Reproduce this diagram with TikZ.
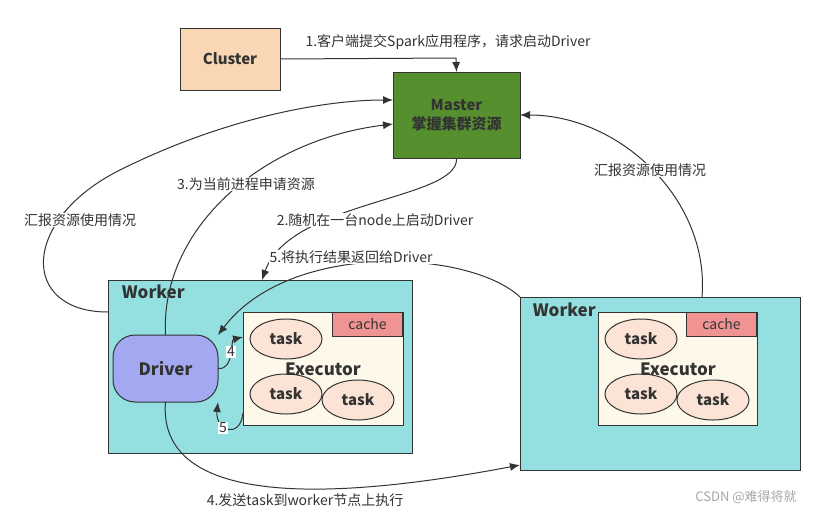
\documentclass[tikz,border=0pt]{standalone}
\usepackage{fontspec}
\setmainfont{Noto Sans CJK SC}
\usetikzlibrary{arrows,arrows.meta,positioning,shapes.geometric}
\definecolor{peach}{HTML}{F9D7B5}
\definecolor{mgreen}{HTML}{568F2E}
\definecolor{wcyan}{HTML}{94DFDF}
\definecolor{dblue}{HTML}{A3A9F0}
\definecolor{exbg}{HTML}{FDF8EA}
\definecolor{cachec}{HTML}{F09393}
\definecolor{taskc}{HTML}{FBE4D5}
\definecolor{txt}{HTML}{333333}
\tikzstyle{box}=[draw=txt, line width=1pt, inner sep=0pt, outer sep=0pt]
\tikzstyle{task}=[draw=txt, line width=1pt, ellipse, fill=taskc, minimum width=72pt, minimum height=40pt, inner sep=0pt, font=\bfseries\fontsize{15}{17}\selectfont, text=txt]
\tikzstyle{lbl}=[fill=white, inner sep=1pt, text=txt, font=\fontsize{14}{16}\selectfont]
\tikzstyle{cache}=[draw=txt, line width=1pt, fill=cachec, minimum width=70pt, minimum height=24pt, anchor=north east, inner sep=0pt, text=txt, font=\fontsize{14}{16}\selectfont]

\begin{document}
\begin{tikzpicture}[x=1pt,y=-1pt,>={Latex[length=10pt,width=8pt]},line width=1pt,color=txt]
\useasboundingbox (0,0) rectangle (830,515);

% boxes
\node [box, fill=peach, minimum width=100pt, minimum height=62pt, font=\bfseries\fontsize{15}{17}\selectfont, text=txt] (cluster) at (230,59) {Cluster};
\node [box, fill=mgreen, minimum width=127pt, minimum height=86pt, font=\bfseries\fontsize{15}{19}\selectfont, text=txt, align=center] (master) at (456.5,115) {Master\\掌握集群资源};

\node [box, fill=wcyan, minimum width=304pt, minimum height=173pt] (w1) at (260,366.5) {};
\node [box, fill=wcyan, minimum width=280pt, minimum height=173pt] (w2) at (660,383.5) {};
\node [font=\bfseries\fontsize{17}{19}\selectfont, text=txt, anchor=west] (w1t) at (118,292) {Worker};
\node [font=\bfseries\fontsize{17}{19}\selectfont, text=txt, anchor=west] (w2t) at (529,310) {Worker};

\node [box, fill=dblue, rounded corners=22pt, minimum width=105pt, minimum height=67pt, font=\bfseries\fontsize{17}{19}\selectfont, text=txt] (driver) at (165.5,368.5) {Driver};

\node [box, fill=exbg, minimum width=160pt, minimum height=113pt] (ex1) at (323,368.5) {};
\node [cache] (c1) at (ex1.north east) {cache};
\node [task] (t11) at (286,339) {task};
\node [task] (t12) at (286,394) {task};
\node [task] (t13) at (358,400) {task};
\node [font=\bfseries\fontsize{17}{19}\selectfont, text=txt] (e1t) at (323,369) {Executor};

\node [box, fill=exbg, minimum width=159pt, minimum height=113pt] (ex2) at (677.5,368.5) {};
\node [cache] (c2) at (ex2.north east) {cache};
\node [task] (t21) at (641,339) {task};
\node [task] (t22) at (641,394) {task};
\node [task] (t23) at (713,400) {task};
\node [font=\bfseries\fontsize{17}{19}\selectfont, text=txt] (e2t) at (678,369) {Executor};

% connectors
\coordinate (m1) at (456,58);
\draw [->] (cluster.east) -- (m1) -- (master.north);
\draw [->] (w1.west |- 0,312) .. controls (20,312) and (20,220) .. (120,170) .. controls (220,120) and (320,100) .. (master.west |- 0,100);
\draw [->] (driver.north) .. controls (160,230) and (260,140) .. (master.west |- 0,124);
\draw [->] (master.south) .. controls (460,200) and (290,200) .. (w1.north -| 262,0);
\draw [->] (w2.north west) .. controls (470,250) and (290,240) .. (driver.north east);
\draw [->] (driver.south) .. controls (160,470) and (230,520) .. (w2.west |- 0,465);
\draw [->] (w2.north -| 702,0) .. controls (710,200) and (620,115) .. (master.east |- 0,115);
\draw [->] (driver.east) .. controls (235,370) and (230,340) .. (ex1.west |- 0,337);
\draw [->] (ex1.west |- 0,413) .. controls (240,440) and (215,430) .. (driver.south east);

% labels
\node [lbl] (l1) at (448,42) {1.客户端提交Spark应用程序，请求启动Driver};
\node [lbl] (l3) at (246,184) {3.为当前进程申请资源};
\node [lbl] (lr1) at (80,220) {汇报资源使用情况};
\node [lbl] (l2) at (375,220) {2.随机在一台node上启动Driver};
\node [lbl] (l5) at (351,257) {5.将执行结果返回给Driver};
\node [lbl] (lr2) at (650,170) {汇报资源使用情况};
\node [lbl] (l4) at (305,500) {4.发送task到worker节点上执行};
\node [lbl] (s4) at (231,352) {4};
\node [lbl] (s5) at (223,428) {5};
\node [text=gray!70, font=\fontsize{13}{15}\selectfont] (wm) at (746,497) {CSDN @难得将就};
\end{tikzpicture}
\end{document}
